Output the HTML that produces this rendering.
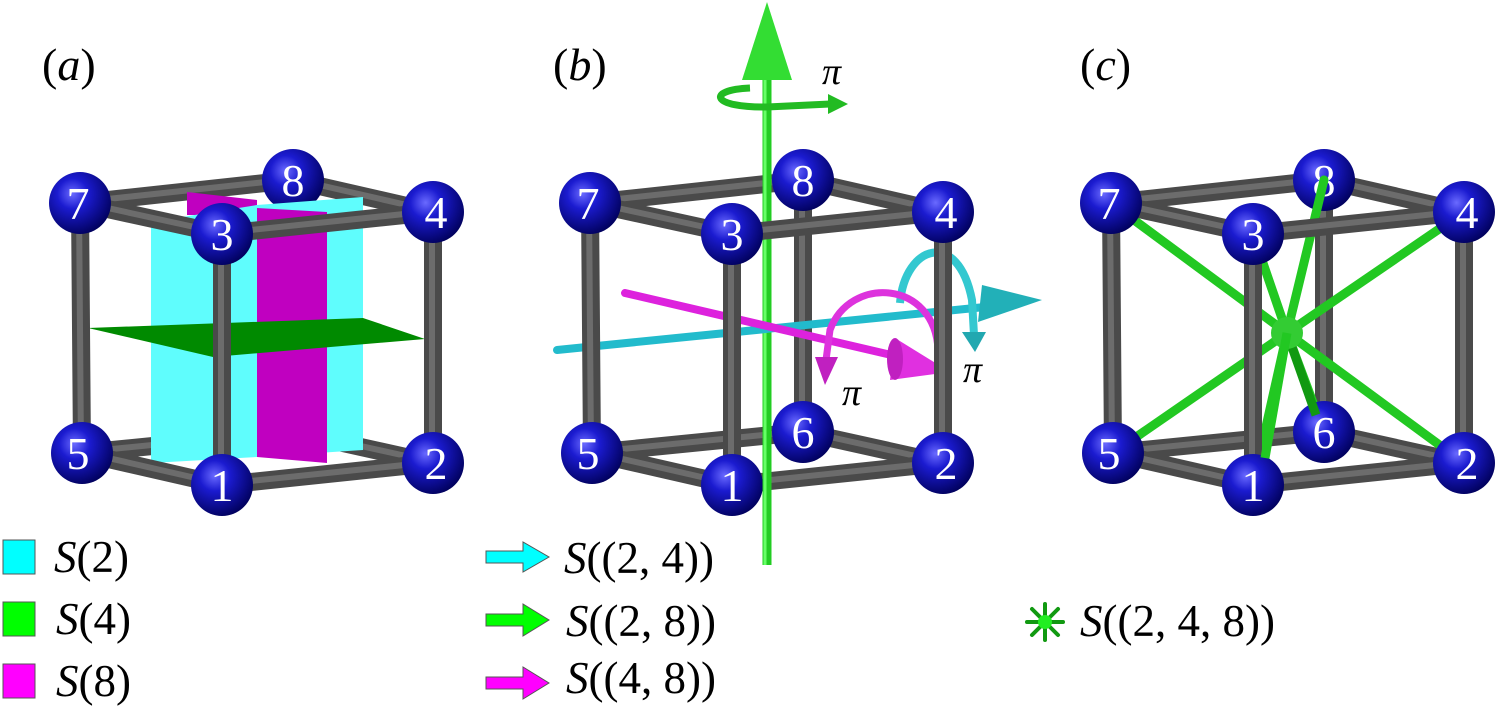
<!DOCTYPE html>
<html><head><meta charset="utf-8"><style>
html,body{margin:0;padding:0;background:#fff}
svg{display:block}
text{font-family:"Liberation Serif",serif}
.n{fill:#fff;font-size:46px;text-anchor:middle}
.lg{font-size:45px;fill:#000}
</style></head><body>
<svg width="1500" height="706" viewBox="0 0 1500 706" xmlns="http://www.w3.org/2000/svg">
<defs>
<radialGradient id="sp" cx="0.38" cy="0.35" r="0.7">
<stop offset="0" stop-color="#6a6aff"/><stop offset="0.35" stop-color="#1b1bd0"/><stop offset="1" stop-color="#00005a"/>
</radialGradient>
<g id="backrods" stroke-linecap="round">
<g stroke="#4a4a4a" stroke-width="18">
<line x1="80" y1="203" x2="293" y2="180"/><line x1="293" y1="180" x2="433" y2="212"/>
<line x1="293" y1="180" x2="293" y2="432"/><line x1="82" y1="453" x2="293" y2="432"/><line x1="293" y1="432" x2="433" y2="463"/>
</g>
<g stroke="#6c6c6c" stroke-width="6">
<line x1="80" y1="202" x2="293" y2="179"/><line x1="293" y1="179" x2="433" y2="211"/>
<line x1="292" y1="180" x2="292" y2="432"/><line x1="82" y1="452" x2="293" y2="431"/><line x1="293" y1="431" x2="433" y2="462"/>
</g>
</g>
<g id="frontrods" stroke-linecap="round">
<g stroke="#4a4a4a" stroke-width="18">
<line x1="80" y1="203" x2="82" y2="453"/><line x1="433" y1="212" x2="433" y2="463"/><line x1="222" y1="234" x2="222" y2="485"/>
<line x1="80" y1="203" x2="222" y2="234"/><line x1="222" y1="234" x2="433" y2="212"/>
<line x1="82" y1="453" x2="222" y2="485"/><line x1="222" y1="485" x2="433" y2="463"/>
</g>
<g stroke="#6c6c6c" stroke-width="6">
<line x1="79" y1="203" x2="81" y2="453"/><line x1="432" y1="212" x2="432" y2="463"/><line x1="221" y1="234" x2="221" y2="485"/>
<line x1="80" y1="202" x2="222" y2="233"/><line x1="222" y1="233" x2="433" y2="211"/>
<line x1="82" y1="452" x2="222" y2="484"/><line x1="222" y1="484" x2="433" y2="462"/>
</g>
</g>
<g id="backsph">
<circle cx="293" cy="180" r="31" fill="url(#sp)"/><text class="n" x="293" y="196">8</text>
</g>
<g id="sph6"><circle cx="293" cy="432" r="31" fill="url(#sp)"/><text class="n" x="293" y="448">6</text></g>
<g id="frontsph">
<circle cx="80" cy="203" r="31" fill="url(#sp)"/><text class="n" x="78" y="219">7</text>
<circle cx="433" cy="212" r="31" fill="url(#sp)"/><text class="n" x="436" y="228">4</text>
<circle cx="222" cy="234" r="31" fill="url(#sp)"/><text class="n" x="222" y="250">3</text>
<circle cx="82" cy="453" r="31" fill="url(#sp)"/><text class="n" x="78" y="469">5</text>
<circle cx="222" cy="485" r="31" fill="url(#sp)"/><text class="n" x="222" y="501">1</text>
<circle cx="433" cy="463" r="31" fill="url(#sp)"/><text class="n" x="436" y="479">2</text>
</g>
</defs>

<text x="42" y="80" font-size="46">(<tspan font-style="italic">a</tspan>)</text>
<text x="553" y="80" font-size="46">(<tspan font-style="italic">b</tspan>)</text>
<text x="1080" y="80" font-size="46">(<tspan font-style="italic">c</tspan>)</text>

<!-- Panel a -->
<use href="#backrods"/>
<use href="#backsph"/>
<polygon points="187,192 257,200 257,215 187,215" fill="#c000c0"/>
<polygon points="151,222 257,205 363,197 363,450 257,457 151,463" fill="#5ffdfd"/>
<polygon points="257,208 327,212 327,463 257,457" fill="#c000c0"/>
<polygon points="88,328 363,318 425,339 213,357" fill="#008a00"/>
<use href="#frontrods"/>
<use href="#frontsph"/>

<!-- Panel b -->
<g transform="translate(510,0)">
<use href="#backrods"/><use href="#backsph"/><use href="#sph6"/>
</g>
<line x1="767" y1="565" x2="767" y2="75" stroke="#22cc22" stroke-width="9"/>
<line x1="765" y1="565" x2="765" y2="75" stroke="#66ff66" stroke-width="3"/>
<polygon points="767,2 792,80 742,80" fill="#33dd33"/>
<path d="M750,88 C705,90 712,108 767,107 L830,104" fill="none" stroke="#22bb22" stroke-width="7"/>
<polygon points="828,94 848,104 828,114" fill="#22bb22"/>
<text x="822" y="84" font-size="38" font-style="italic">π</text>
<line x1="557" y1="350" x2="985" y2="307" stroke="#22bbcc" stroke-width="8" stroke-linecap="round"/>
<polygon points="1042,300 982,285 978,322" fill="#22b0b8"/>
<path d="M900,303 C905,245 958,228 972,300 L974,335" fill="none" stroke="#33c8d0" stroke-width="8"/>
<polygon points="962,332 986,332 975,352" fill="#22a8b0"/>
<text x="963" y="382" font-size="38" font-style="italic">π</text>
<line x1="625" y1="293" x2="900" y2="357" stroke="#dd22dd" stroke-width="8" stroke-linecap="round"/>
<polygon points="950,372 895,338 890,380" fill="#e030e0"/>
<ellipse cx="895" cy="359" rx="8" ry="21" fill="#c020c0"/>
<path d="M938,350 C935,280 850,275 830,330 L826,360" fill="none" stroke="#dd33dd" stroke-width="7"/>
<polygon points="815,357 838,357 825,385" fill="#c020c0"/>
<text x="842" y="405" font-size="38" font-style="italic">π</text>
<g transform="translate(510,0)"><use href="#frontrods"/><use href="#frontsph"/></g>
<line x1="767" y1="380" x2="767" y2="565" stroke="#22cc22" stroke-width="9"/>
<line x1="765" y1="380" x2="765" y2="565" stroke="#66ff66" stroke-width="3"/>

<!-- Panel c -->
<g transform="translate(1031,0)">
<use href="#backrods"/><use href="#backsph"/>
<g stroke="#22c822" stroke-width="9" stroke-linecap="round">
<line x1="256" y1="333" x2="293" y2="180"/><line x1="256" y1="333" x2="293" y2="432"/>
<line x1="256" y1="333" x2="80" y2="203"/><line x1="256" y1="333" x2="433" y2="212"/>
<line x1="256" y1="333" x2="82" y2="453"/><line x1="256" y1="333" x2="433" y2="463"/>
<line x1="256" y1="333" x2="222" y2="485"/><line x1="256" y1="333" x2="222" y2="234"/>
</g>
<use href="#sph6"/>
<line x1="256" y1="333" x2="285" y2="415" stroke="#119911" stroke-width="9"/>
<circle cx="256" cy="333" r="16" fill="#33cc33"/>
<use href="#frontrods"/><use href="#frontsph"/>
<line x1="256" y1="333" x2="234" y2="458" stroke="#22c822" stroke-width="9"/>
</g>

<rect x="3" y="540" width="32" height="34" fill="#00ffff" stroke="#555" stroke-width="1"/>
<rect x="3" y="602" width="32" height="34" fill="#00ff00" stroke="#555" stroke-width="1"/>
<rect x="3" y="664" width="32" height="34" fill="#ff00ff" stroke="#555" stroke-width="1"/>
<text class="lg" x="54" y="572"><tspan font-style="italic">S</tspan>(2)</text>
<text class="lg" x="56" y="634"><tspan font-style="italic">S</tspan>(4)</text>
<text class="lg" x="56" y="696"><tspan font-style="italic">S</tspan>(8)</text>

<polygon points="486,551 523,551 523,542 549,557 523,572 523,563 486,563" fill="#00ffff" stroke="#555" stroke-width="1"/>
<polygon points="486,614 523,614 523,604 549,620 523,636 523,626 486,626" fill="#00ff00" stroke="#555" stroke-width="1"/>
<polygon points="486,677 523,677 523,667 549,683 523,699 523,689 486,689" fill="#ff00ff" stroke="#555" stroke-width="1"/>
<text class="lg" x="564" y="573"><tspan font-style="italic">S</tspan>((2, 4))</text>
<text class="lg" x="566" y="636"><tspan font-style="italic">S</tspan>((2, 8))</text>
<text class="lg" x="566" y="693"><tspan font-style="italic">S</tspan>((4, 8))</text>

<g stroke="#119911" stroke-width="4" stroke-linecap="round">
<line x1="1027" y1="622" x2="1063" y2="622"/><line x1="1045" y1="604" x2="1045" y2="640"/>
<line x1="1032" y1="609" x2="1058" y2="635"/><line x1="1058" y1="609" x2="1032" y2="635"/>
</g>
<circle cx="1045" cy="622" r="7" fill="#22ee22"/>
<text class="lg" x="1080" y="636"><tspan font-style="italic">S</tspan>((2, 4, 8))</text>
</svg>
</body></html>
